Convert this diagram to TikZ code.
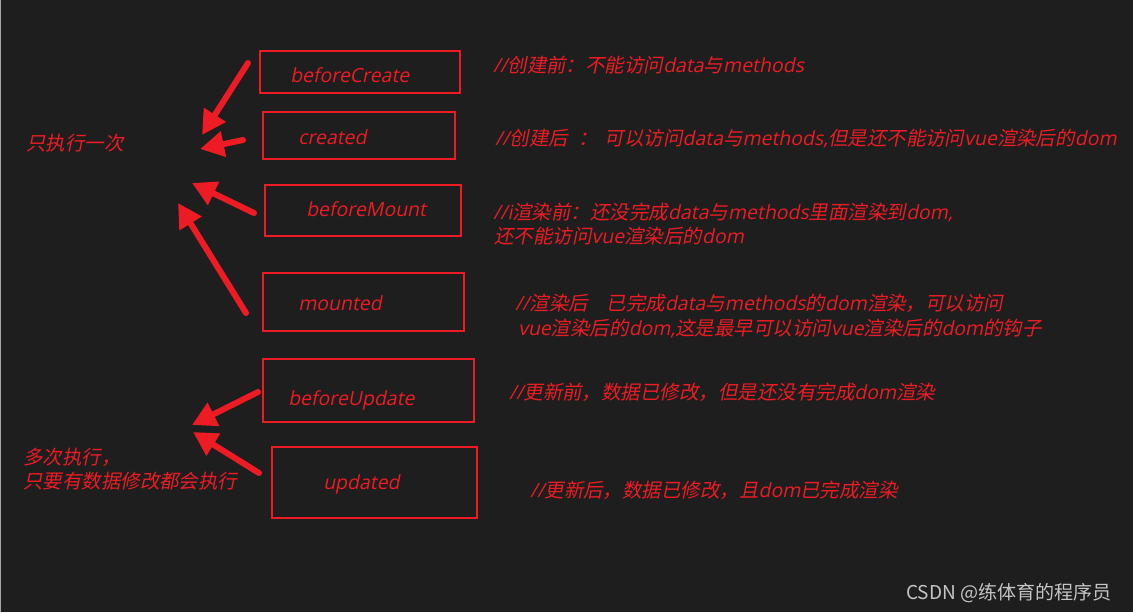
\documentclass[tikz,border=0pt]{standalone}
\usepackage{fontspec}
\usetikzlibrary{arrows.meta}
\newfontfamily\cj[FakeSlant=0.2]{Noto Sans CJK SC}
\newfontfamily\la[FakeSlant=0.2]{Open Sans}
\newfontfamily\wmf{Noto Sans CJK SC}
\newcommand\lat[1]{{\la #1}}
\definecolor{bgc}{HTML}{1E1E1E}
\definecolor{rd}{HTML}{ED1C24}
\definecolor{wmc}{HTML}{C4C4C4}
\tikzset{
  box/.style={draw=rd, line width=1.9pt, rectangle, inner sep=0pt},
  lbl/.style={anchor=base west, inner sep=0pt, text=rd, font=\fontsize{14.6pt}{18pt}\la},
  cmt/.style={anchor=base west, inner sep=0pt, text=rd, font=\fontsize{14.6pt}{18pt}\cj},
  arr/.style={draw=rd, line width=4.5pt, line cap=round, -{Triangle[length=18pt,width=18.5pt]}},
}
\begin{document}
\begin{tikzpicture}[x=0.75pt,y=-0.75pt]
\fill[bgc] (0,0) rectangle (1133,612);
\useasboundingbox (0,0) rectangle (1133,612);
\draw[color=gray!70, line width=0.75pt] (0.5,0) -- (0.5,612);

% boxes
\node[box, minimum width=150pt,    minimum height=31.5pt]  (bcBox) at (360,72)    {};
\node[box, minimum width=144pt,    minimum height=35.25pt] (crBox) at (359,135.5) {};
\node[box, minimum width=147pt,    minimum height=38.25pt] (bmBox) at (363,210.5) {};
\node[box, minimum width=150.75pt, minimum height=43.5pt]  (mtBox) at (363.5,302) {};
\node[box, minimum width=158.25pt, minimum height=47.25pt] (buBox) at (368.5,390.5) {};
\node[box, minimum width=153.75pt, minimum height=53.25pt] (udBox) at (374.5,482.5) {};

% box labels
\node[lbl] (bcT) at (290,82)  {beforeCreate};
\node[lbl] (crT) at (298,144) {created};
\node[lbl] (bmT) at (306,216) {beforeMount};
\node[lbl] (mtT) at (298,310) {mounted};
\node[lbl] (buT) at (288,405) {beforeUpdate};
\node[lbl] (udT) at (323,489) {updated};

% left labels
\node[cmt] (once)   at (26,150) {只执行一次};
\node[cmt] (multiA) at (23,464) {多次执行，};
\node[cmt] (multiB) at (23,488) {只要有数据修改都会执行};

% comments
\node[cmt] (c1)  at (493,72)  {\lat{//}创建前：不能访问\lat{data}与\lat{methods}};
\node[cmt] (c2)  at (495,145) {\lat{//}创建后\hspace{8pt}：\hspace{5pt}可以访问\lat{data}与\lat{methods,}但是还不能访问\lat{vue}渲染后的\lat{dom}};
\node[cmt] (c3a) at (493,219) {\lat{//i}渲染前：还没完成\lat{data}与\lat{methods}里面渲染到\lat{dom,}};
\node[cmt] (c3b) at (494,243) {还不能访问\lat{vue}渲染后的\lat{dom}};
\node[cmt] (c4a) at (515,310) {\lat{//}渲染后\hspace{14pt}已完成\lat{data}与\lat{methods}的\lat{dom}渲染，可以访问};
\node[cmt] (c4b) at (518,335) {\lat{vue}渲染后的\lat{dom,}这是最早可以访问\lat{vue}渲染后的\lat{dom}的钩子};
\node[cmt] (c5)  at (509,399) {\lat{//}更新前，数据已修改，但是还没有完成\lat{dom}渲染};
\node[cmt] (c6)  at (530,497) {\lat{//}更新后，数据已修改，且\lat{dom}已完成渲染};

% watermark
\node[anchor=base west, inner sep=0pt, text=wmc, font=\fontsize{14.3pt}{18pt}\wmf] (wm) at (906,599) {CSDN @练体育的程序员};

% arrow end points
\coordinate (a1s) at (248,63);    \coordinate (a1e) at (202,135);
\coordinate (a2s) at (243,140);   \coordinate (a2e) at (200,149);
\coordinate (a3s) at (254,213);   \coordinate (a3e) at (192,183);
\coordinate (a4s) at (246,313);   \coordinate (a4e) at (178,203);
\coordinate (a5s) at (258,392);   \coordinate (a5e) at (192,425);
\coordinate (a6s) at (259,473);   \coordinate (a6e) at (193,432);

\draw[arr] (a1s) -- (a1e);
\draw[arr] (a2s) -- (a2e);
\draw[arr] (a3s) -- (a3e);
\draw[arr] (a4s) -- (a4e);
\draw[arr] (a5s) -- (a5e);
\draw[arr] (a6s) -- (a6e);
\end{tikzpicture}
\end{document}
